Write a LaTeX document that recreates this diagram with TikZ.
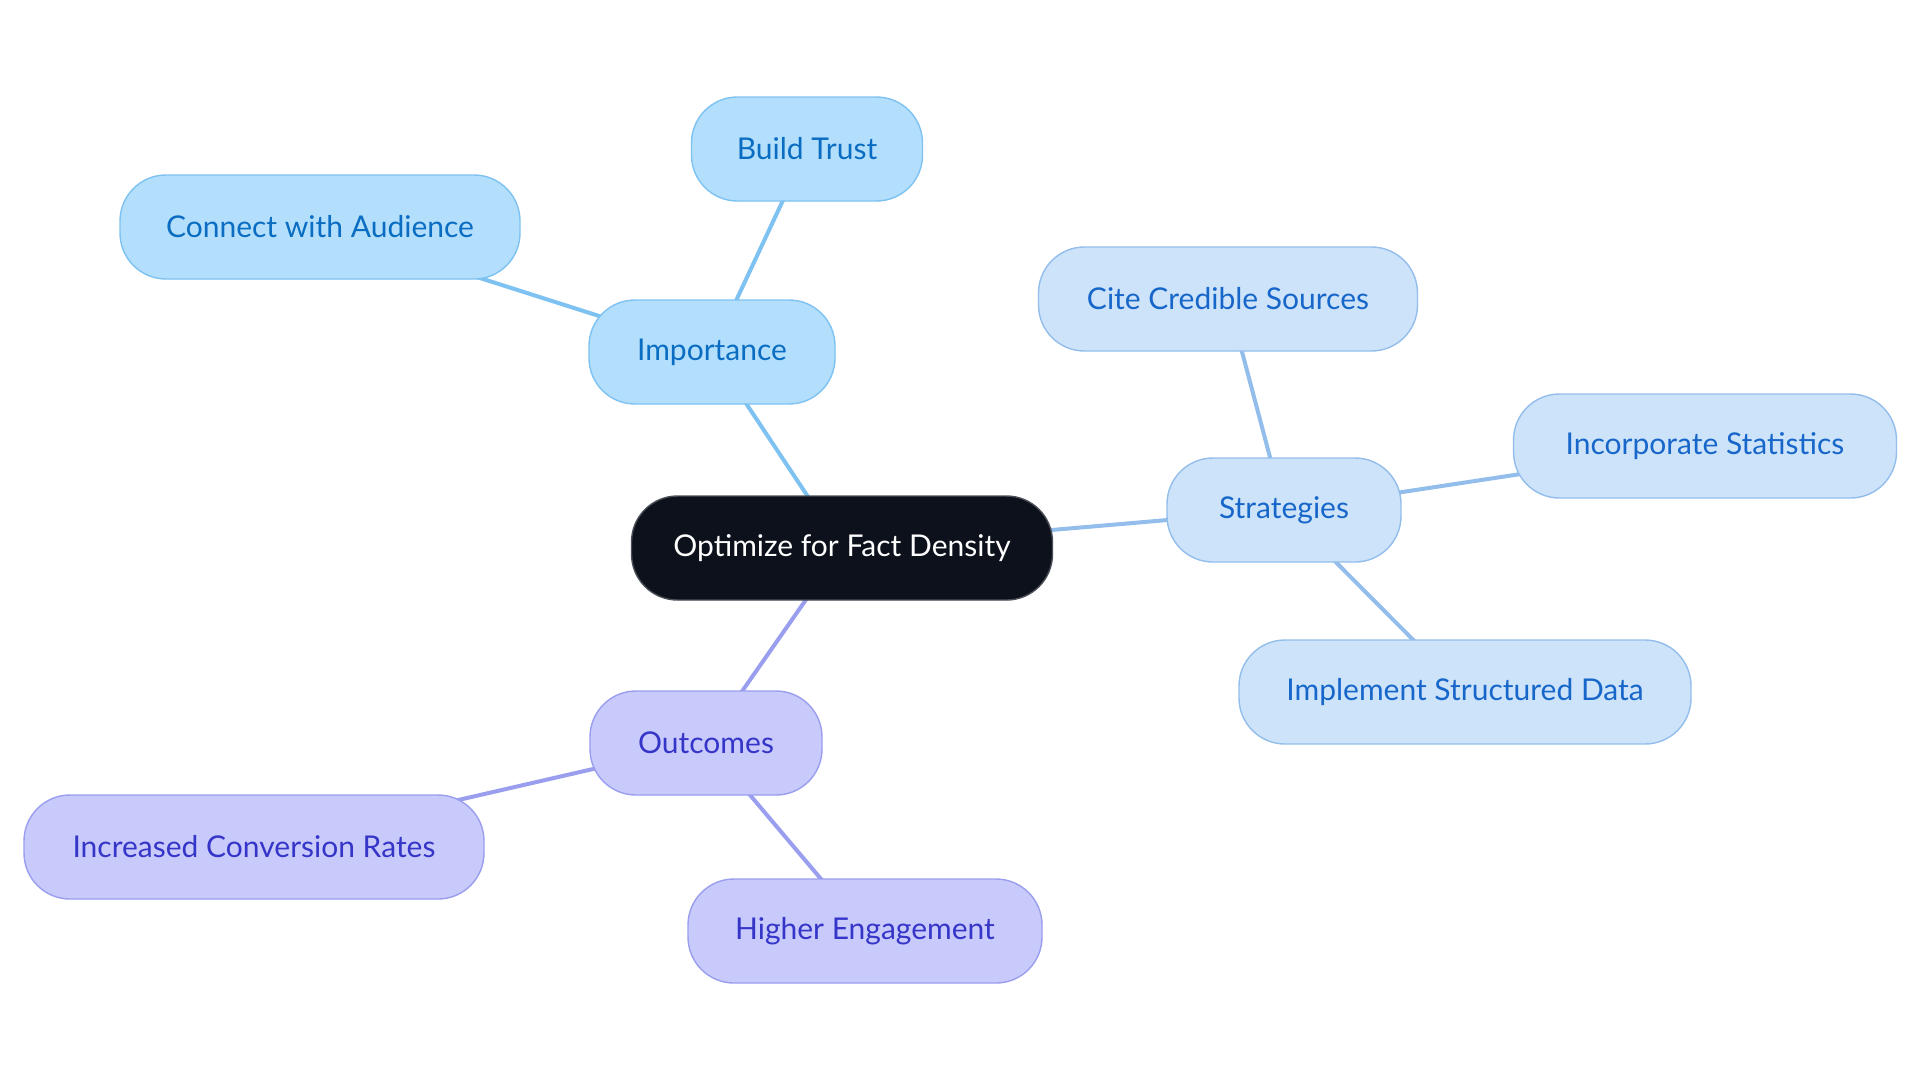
\documentclass[tikz,border=0pt]{standalone}
\usepackage{fontspec}
\setmainfont{Lato}
\usetikzlibrary{backgrounds}
\definecolor{cfill}{HTML}{0C111B}
\definecolor{cdraw}{HTML}{4A4F57}
\definecolor{afill}{HTML}{B3DFFD}
\definecolor{adraw}{HTML}{7EC2F1}
\definecolor{atext}{HTML}{0A6DC2}
\definecolor{bfill}{HTML}{CDE3FA}
\definecolor{bdraw}{HTML}{93BEEC}
\definecolor{btext}{HTML}{1766C9}
\definecolor{gfill}{HTML}{C9CAFC}
\definecolor{gdraw}{HTML}{9A9EEF}
\definecolor{gtext}{HTML}{3535C8}
\tikzset{
  pill/.style={rectangle, rounded corners=23pt, minimum height=52pt, line width=0.7pt,
    font=\fontsize{15}{18}\selectfont, inner sep=0pt},
  rootnode/.style={pill, fill=cfill, draw=cdraw, text=white},
  anode/.style={pill, fill=afill, draw=adraw, text=atext},
  bnode/.style={pill, fill=bfill, draw=bdraw, text=btext},
  gnode/.style={pill, fill=gfill, draw=gdraw, text=gtext},
  aline/.style={draw=adraw, line width=2pt},
  bline/.style={draw=bdraw, line width=2pt},
  gline/.style={draw=gdraw, line width=2pt},
}
\begin{document}
\begin{tikzpicture}[x=0.5pt,y=-0.5pt]
\useasboundingbox (0,0) rectangle (1920,1083);
\node[rootnode, minimum width=210.5pt] (root) at (842,548) {Optimize for Fact Density};
\node[anode, minimum width=123pt] (imp) at (712,352) {Importance};
\node[anode, minimum width=115.5pt] (bt) at (807,149) {Build Trust};
\node[anode, minimum width=200pt] (cwa) at (320,227) {Connect with Audience};
\node[bnode, minimum width=117pt] (str) at (1284,510) {Strategies};
\node[bnode, minimum width=189.5pt] (ccs) at (1228,299) {Cite Credible Sources};
\node[bnode, minimum width=191.5pt] (ist) at (1705,446) {Incorporate Statistics};
\node[bnode, minimum width=226pt] (isd) at (1465,692) {Implement Structured Data};
\node[gnode, minimum width=116pt] (out) at (706,743) {Outcomes};
\node[gnode, minimum width=230pt] (icr) at (254,847) {Increased Conversion Rates};
\node[gnode, minimum width=177pt] (he) at (865,931) {Higher Engagement};
\begin{scope}[on background layer]
\fill[white] (0,0) rectangle (1920,1083);
\draw[aline] (root.center) -- (imp.center);
\draw[aline] (imp.center) -- (bt.center);
\draw[aline] (imp.center) -- (cwa.center);
\draw[bline] (root.center) -- (str.center);
\draw[bline] (str.center) -- (ccs.center);
\draw[bline] (str.center) -- (ist.center);
\draw[bline] (str.center) -- (isd.center);
\draw[gline] (root.center) -- (out.center);
\draw[gline] (out.center) -- (icr.center);
\draw[gline] (out.center) -- (he.center);
\end{scope}
\end{tikzpicture}
\end{document}
